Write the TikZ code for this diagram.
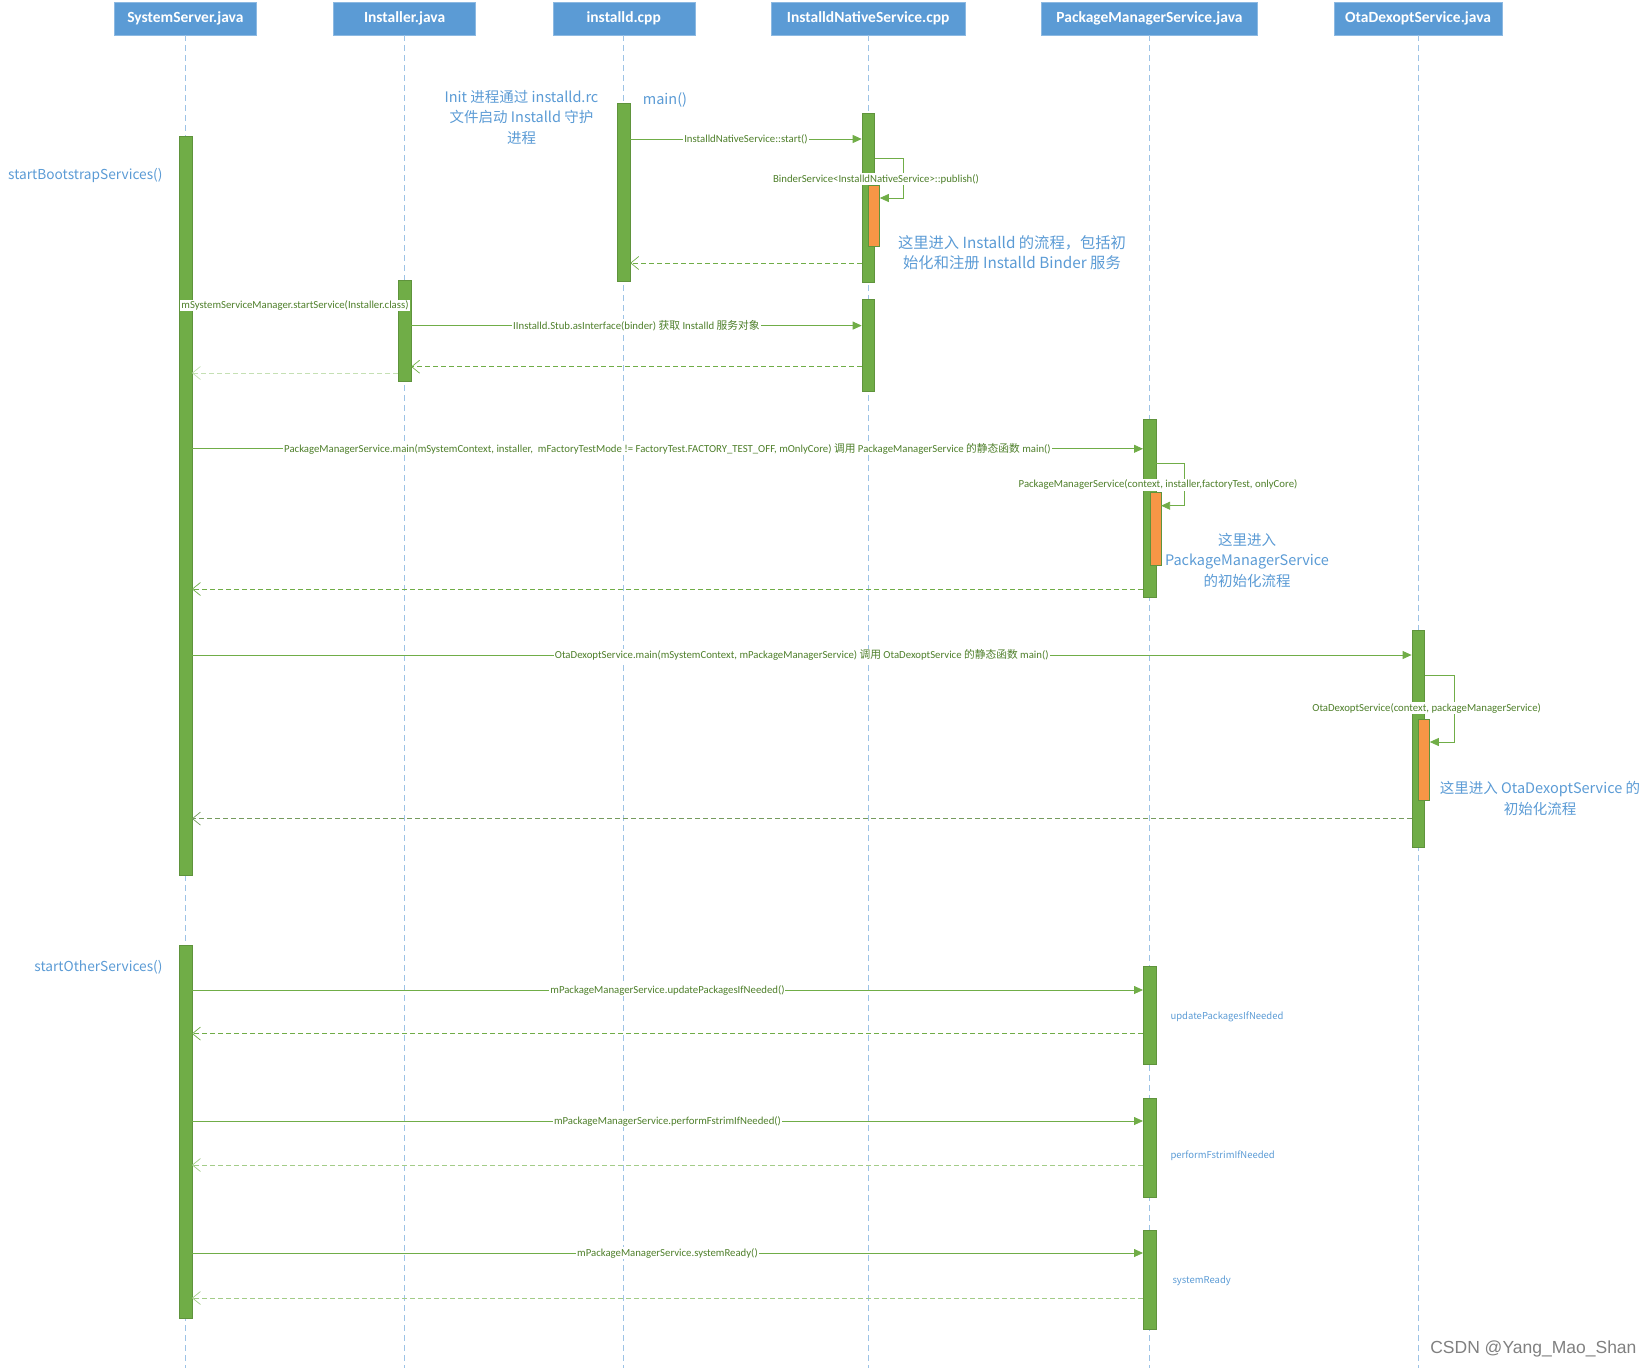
\documentclass[tikz,border=0pt]{standalone}
\usepackage{fontspec}
\setmainfont{Carlito}
\newfontfamily\zhfont{Noto Sans CJK SC}
\newfontfamily\wmfont{Liberation Sans}
\newcommand{\zh}[1]{{\zhfont #1}}
\usetikzlibrary{arrows.meta,positioning}
\definecolor{headBlue}{HTML}{5B9BD5}
\definecolor{lifeBlue}{HTML}{9DC3E6}
\definecolor{barGreen}{HTML}{70AD47}
\definecolor{msgGreen}{HTML}{4E7F2A}
\definecolor{subOrange}{HTML}{F79646}
\definecolor{noteBlue}{HTML}{5B9BD5}
\definecolor{retLight}{HTML}{C5E0B4}

\begin{document}
\begin{tikzpicture}[x=1pt, y=-1pt, font=\fontsize{10.75}{12}\selectfont,
	head/.style={fill=headBlue, draw=headBlue!70!white, text=white,
		font=\fontsize{15.5}{17}\selectfont\bfseries, minimum height=33pt, inner sep=0pt},
	life/.style={draw=lifeBlue, line width=0.8pt, dash pattern=on 6pt off 4pt},
	bar/.style={fill=barGreen, draw=barGreen!85!black, line width=0.4pt,
		minimum width=12.6pt, inner sep=0pt, anchor=north},
	subbar/.style={fill=subOrange, draw=barGreen!85!black, line width=0.6pt,
		minimum width=11pt, inner sep=0pt, anchor=north},
	call/.style={draw=barGreen, line width=0.8pt, -{Triangle[length=9pt,width=8pt]}},
	ret/.style={draw=barGreen, line width=0.7pt, dash pattern=on 5pt off 3pt,
		-{Straight Barb[length=8pt,width=13pt]}},
	msg/.style={fill=white, text=msgGreen, inner sep=1pt},
	note/.style={text=noteBlue, font=\zhfont\fontsize{14.5}{20.5}\selectfont, align=center},
	hint/.style={text=noteBlue, font=\zhfont\fontsize{9.5}{11}\selectfont, anchor=west},
	]
	\useasboundingbox (0,0) rectangle (1652,1368);
	\coordinate (bottom) at (0,1368);
	
	%heads
	\foreach \x/\w/\name/\txt in {
		185.4/142/hss/SystemServer.java,
		404.6/142/hin/Installer.java,
		623.7/142/hid/installd.cpp,
		868.2/194/hnat/InstalldNativeService.cpp,
		1149.5/216/hpms/PackageManagerService.java,
		1418.1/168/hota/OtaDexoptService.java%
	}
	\node[head, minimum width=\w pt] (\name) at (\x,18.5) {\txt};
	
	%lifelines
	\foreach \name in {hss,hin,hid,hnat,hpms,hota}
	\draw[life] (\name.south) -- (\name.south |- bottom);
	
	%activations
	\node[bar, minimum height=739pt] (ss1) at (185.4,136) {};
	\node[bar, minimum height=373pt] (ss2) at (185.4,945) {};
	\node[bar, minimum height=101pt] (ins) at (404.6,280) {};
	\node[bar, minimum height=178pt] (ind) at (623.7,103) {};
	\node[bar, minimum height=169pt] (nat1) at (868.2,113) {};
	\node[bar, minimum height=92pt] (nat2) at (868.2,299) {};
	\node[bar, minimum height=178pt] (pms1) at (1149.5,419) {};
	\node[bar, minimum height=98pt] (pms2) at (1149.5,966) {};
	\node[bar, minimum height=99pt] (pms3) at (1149.5,1098) {};
	\node[bar, minimum height=99pt] (pms4) at (1149.5,1229.5) {};
	\node[bar, minimum height=217pt] (ota) at (1418.1,630) {};
	\node[subbar, minimum height=61pt] (sub1) at (874,185) {};
	\node[subbar, minimum height=73pt] (sub2) at (1155.3,492) {};
	\node[subbar, minimum height=81pt] (sub3) at (1424,719) {};
	
	%levels
	\coordinate (m1) at (0,139);
	\coordinate (s1a) at (0,158);
	\coordinate (s1b) at (0,198);
	\coordinate (r1) at (0,263);
	\coordinate (m2) at (0,305.5);
	\coordinate (m3) at (0,325.6);
	\coordinate (r2) at (0,366.7);
	\coordinate (r3) at (0,373);
	\coordinate (m4) at (0,448.8);
	\coordinate (s2a) at (0,463.6);
	\coordinate (s2b) at (0,505.7);
	\coordinate (r4) at (0,589);
	\coordinate (m5) at (0,655);
	\coordinate (s3a) at (0,675);
	\coordinate (s3b) at (0,742);
	\coordinate (r5) at (0,818.6);
	\coordinate (m6) at (0,990);
	\coordinate (r6) at (0,1033.6);
	\coordinate (m7) at (0,1121);
	\coordinate (r7) at (0,1165);
	\coordinate (m8) at (0,1253);
	\coordinate (r8) at (0,1298);
	
	%messages
	\draw[call] (ind.east |- m1) -- node[msg] {InstalldNativeService::start()} (nat1.west |- m1);
	\draw[call] (nat1.east |- s1a) -- ++(29,0) |- (sub1.east |- s1b);
	\node[msg] (publish) at (876,179) {BinderService<InstalldNativeService>::publish()};
	\draw[ret] (nat1.west |- r1) -- (ind.east |- r1);
	
	\draw[call] (ss1.east |- m2) -- node[msg] {mSystemServiceManager.startService(Installer.class)} (ins.west |- m2);
	\draw[call] (ins.east |- m3) -- node[msg] {IInstalld.Stub.asInterface(binder) \zh{获取} Installd \zh{服务对象}} (nat2.west |- m3);
	\draw[ret] (nat2.west |- r2) -- (ins.east |- r2);
	\draw[ret, draw=retLight] (ins.west |- r3) -- (ss1.east |- r3);
	
	\draw[call] (ss1.east |- m4) -- node[msg] {PackageManagerService.main(mSystemContext, installer,\ \ mFactoryTestMode != FactoryTest.FACTORY\_TEST\_OFF, mOnlyCore) \zh{调用} PackageManagerService \zh{的静态函数} main()} (pms1.west |- m4);
	\draw[call] (pms1.east |- s2a) -- ++(28,0) |- (sub2.east |- s2b);
	\node[msg] (pmsctor) at (1158,484.7) {PackageManagerService(context, installer,factoryTest, onlyCore)};
	\draw[ret] (pms1.west |- r4) -- (ss1.east |- r4);
	
	\draw[call] (ss1.east |- m5) -- node[msg] {OtaDexoptService.main(mSystemContext, mPackageManagerService) \zh{调用} OtaDexoptService \zh{的静态函数} main()} (ota.west |- m5);
	\draw[call] (ota.east |- s3a) -- ++(30,0) |- (sub3.east |- s3b);
	\node[msg] (otactor) at (1426.6,708) {OtaDexoptService(context, packageManagerService)};
	\draw[ret, draw=barGreen!60!gray] (ota.west |- r5) -- (ss1.east |- r5);
	
	\draw[call] (ss2.east |- m6) -- node[msg] {mPackageManagerService.updatePackagesIfNeeded()} (pms2.west |- m6);
	\draw[ret] (pms2.west |- r6) -- (ss2.east |- r6);
	\draw[call] (ss2.east |- m7) -- node[msg] {mPackageManagerService.performFstrimIfNeeded()} (pms3.west |- m7);
	\draw[ret, draw=retLight!60!barGreen] (pms3.west |- r7) -- (ss2.east |- r7);
	\draw[call] (ss2.east |- m8) -- node[msg] {mPackageManagerService.systemReady()} (pms4.west |- m8);
	\draw[ret, draw=retLight!60!barGreen] (pms4.west |- r8) -- (ss2.east |- r8);
	
	%notes
	\node[note] (initnote) at (521.5,117) {Init 进程通过 installd.rc\\文件启动 Installd 守护\\进程};
	\node[note] (mainnote) at (665,100) {main()};
	\node[note, font=\zhfont\fontsize{15.3}{20.5}\selectfont] (natnote) at (1012,252.5) {这里进入 Installd 的流程，包括初\\始化和注册 Installd Binder 服务};
	\node[note] (pmsnote) at (1247,560) {这里进入\\PackageManagerService\\的初始化流程};
	\node[note] (otanote) at (1540,798.5) {这里进入 OtaDexoptService 的\\初始化流程};
	\node[note, anchor=east, font=\zhfont\fontsize{13.7}{16}\selectfont] (boot) at (166,175) {startBootstrapServices()};
	\node[note, anchor=east, font=\zhfont\fontsize{13.7}{16}\selectfont] (other) at (166,967) {startOtherServices()};
	\node[hint] (upd) at (1167,1017) {updatePackagesIfNeeded};
	\node[hint] (fstrim) at (1167,1156) {performFstrimIfNeeded};
	\node[hint] (ready) at (1169,1281) {systemReady};
	
	%watermark
	\node[text=gray, font=\wmfont\fontsize{17.5}{20}\selectfont, anchor=east] (mark) at (1640,1349) {CSDN @Yang\_Mao\_Shan};
\end{tikzpicture}
\end{document}
